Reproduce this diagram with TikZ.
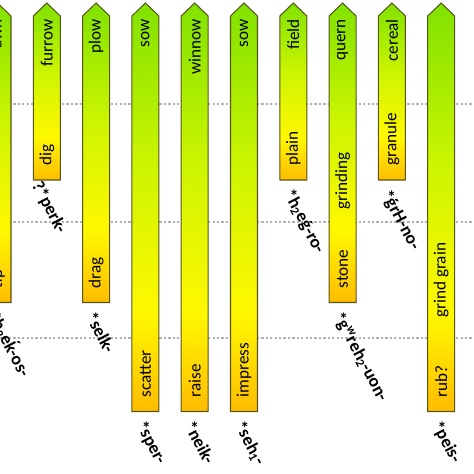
\documentclass[tikz,border=0pt]{standalone}
\usepackage{fontspec}
\setmainfont{Carlito}
\definecolor{stalkgreen}{RGB}{128,226,0}
\definecolor{stalklime}{RGB}{205,245,0}
\definecolor{stalkyellow}{RGB}{255,248,0}
\definecolor{stalkorange}{RGB}{255,188,0}
\definecolor{stalkline}{RGB}{88,84,28}
\pgfdeclareverticalshading{stalkfade}{100bp}{color(0bp)=(stalkorange); color(25bp)=(stalkorange); color(37bp)=(stalkyellow); color(55bp)=(stalklime); color(75bp)=(stalkgreen); color(100bp)=(stalkgreen)}
\newcommand{\acc}[2][0pt]{{\ooalign{#2\cr\hidewidth\raisebox{#1}{´}\hidewidth\cr}}}
\tikzset{
  stalk/.style={draw=stalkline, line width=0.75pt, shade, shading=stalkfade},
  level/.style={line width=1.7pt, black!30, dash pattern=on 1.7pt off 1.5pt},
  gloss/.style={rotate=90, inner sep=0pt, font=\fontsize{12.4}{14}\selectfont},
  root/.style={rotate=-62, anchor=west, inner sep=0pt, font=\fontsize{12.8}{14}\selectfont\bfseries},
}

\begin{document}
\begin{tikzpicture}[x=1in,y=1in]
\useasboundingbox (0,0) rectangle (4.74,4.74);
\clip (0,0) rectangle (4.74,4.74);
% stage lines
\draw[level] (0,3.6970) -- (4.74,3.6970);
\draw[level] (0,2.5230) -- (4.74,2.5230);
\draw[level] (0,1.3570) -- (4.74,1.3570);
% stalks
\path[stalk] (-0.1600,1.7150) -- (-0.1600,4.5800) -- (-0.0250,4.7100) -- (0.1100,4.5800) -- (0.1100,1.7150) -- cycle;
\path[stalk] (0.3330,2.9400) -- (0.3330,4.5800) -- (0.4680,4.7100) -- (0.6030,4.5800) -- (0.6030,2.9400) -- cycle;
\path[stalk] (0.8260,1.7150) -- (0.8260,4.5800) -- (0.9610,4.7100) -- (1.0960,4.5800) -- (1.0960,1.7150) -- cycle;
\path[stalk] (1.3190,0.6250) -- (1.3190,4.5800) -- (1.4540,4.7100) -- (1.5890,4.5800) -- (1.5890,0.6250) -- cycle;
\path[stalk] (1.8120,0.6250) -- (1.8120,4.5800) -- (1.9470,4.7100) -- (2.0820,4.5800) -- (2.0820,0.6250) -- cycle;
\path[stalk] (2.3050,0.6250) -- (2.3050,4.5800) -- (2.4400,4.7100) -- (2.5750,4.5800) -- (2.5750,0.6250) -- cycle;
\path[stalk] (2.7980,2.9400) -- (2.7980,4.5800) -- (2.9330,4.7100) -- (3.0680,4.5800) -- (3.0680,2.9400) -- cycle;
\path[stalk] (3.2910,1.7150) -- (3.2910,4.5800) -- (3.4260,4.7100) -- (3.5610,4.5800) -- (3.5610,1.7150) -- cycle;
\path[stalk] (3.7840,2.9400) -- (3.7840,4.5800) -- (3.9190,4.7100) -- (4.0540,4.5800) -- (4.0540,2.9400) -- cycle;
\path[stalk] (4.2770,0.6250) -- (4.2770,4.5800) -- (4.4120,4.7100) -- (4.5470,4.5800) -- (4.5470,0.6250) -- cycle;
% glosses
\node[gloss, anchor=east] (top0) at (-0.0250,4.5500) {awn};
\node[gloss, anchor=west] (bot0) at (-0.0250,1.8550) {tip};
\node[gloss, anchor=east] (top1) at (0.4680,4.5500) {furrow};
\node[gloss, anchor=west] (bot1) at (0.4680,3.0800) {dig};
\node[gloss, anchor=east] (top2) at (0.9610,4.5500) {plow};
\node[gloss, anchor=west] (bot2) at (0.9610,1.8550) {drag};
\node[gloss, anchor=east] (top3) at (1.4540,4.5500) {sow};
\node[gloss, anchor=west] (bot3) at (1.4540,0.7650) {scatter};
\node[gloss, anchor=east] (top4) at (1.9470,4.5500) {winnow};
\node[gloss, anchor=west] (bot4) at (1.9470,0.7650) {raise};
\node[gloss, anchor=east] (top5) at (2.4400,4.5500) {sow};
\node[gloss, anchor=west] (bot5) at (2.4400,0.7650) {impress};
\node[gloss, anchor=east] (top6) at (2.9330,4.5500) {field};
\node[gloss, anchor=west] (bot6) at (2.9330,3.0800) {plain};
\node[gloss, anchor=east] (top7) at (3.4260,4.5500) {quern};
\node[gloss, anchor=west] (mid7) at (3.4260,2.6400) {grinding};
\node[gloss, anchor=west] (bot7) at (3.4260,1.8550) {stone};
\node[gloss, anchor=east] (top8) at (3.9190,4.5500) {cereal};
\node[gloss, anchor=west] (bot8) at (3.9190,3.0800) {granule};
\node[gloss, anchor=west] (mid9) at (4.4120,1.5600) {grind grain};
\node[gloss, anchor=west] (bot9) at (4.4120,0.7650) {rub?};
% reconstructions
\node[root] (root0) at (-0.0800,1.6050) {*h\textsubscript{2}e\acc[.22em]{k}-os-};
\node[root] (root1) at (0.3580,2.9100) {?*perk-};
\node[root] (root2) at (0.9060,1.6050) {*selk-};
\node[root] (root3) at (1.3990,0.5150) {*sper-};
\node[root] (root4) at (1.8920,0.5150) {*neik-};
\node[root] (root5) at (2.3850,0.5150) {*seh\textsubscript{1}-};
\node[root] (root6) at (2.8780,2.8300) {*h\textsubscript{2}e\acc{g}-ro-};
\node[root] (root7) at (3.3710,1.6050) {*g\textsuperscript{w}reh\textsubscript{2}-uon-};
\node[root] (root8) at (3.8640,2.8300) {*\acc{g}rH-no-};
\node[root] (root9) at (4.3570,0.5150) {*peis-};
\end{tikzpicture}
\end{document}
